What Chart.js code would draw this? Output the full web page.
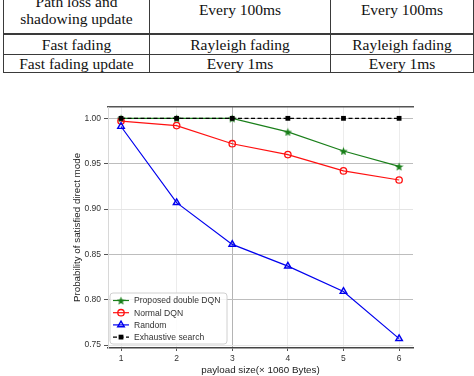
<!DOCTYPE html>
<html>
<head>
<meta charset="utf-8">
<script src="https://cdn.jsdelivr.net/npm/chart.js"></script>
<style>
  html, body { margin: 0; padding: 0; background: #fff; }
  body { width: 474px; height: 376px; overflow: hidden; position: relative; }
  #params {
    position: absolute; left: 3px; top: -15px;
    border-collapse: collapse;
    font-family: "Liberation Serif", serif; font-size: 15.5px; color: #111;
  }
  #params td {
    border: 1px solid #3a3a3a; text-align: center; vertical-align: middle;
    padding: 0; line-height: 17px;
  }
  #params tr.r1 td { height: 47px; border-bottom-width: 2px; }
  #params tr.r2 td { height: 19px; }
  #params tr.r3 td { height: 16px; }
  #wrap { position: absolute; left: 0; top: 95px; width: 474px; height: 281px; }
</style>
</head>
<body>
<table id="params">
  <colgroup><col style="width:146px"><col style="width:181px"><col style="width:143px"></colgroup>
  <tr class="r1"><td>Path loss and<br>shadowing update</td><td>Every 100ms</td><td>Every 100ms</td></tr>
  <tr class="r2"><td>Fast fading</td><td>Rayleigh fading</td><td>Rayleigh fading</td></tr>
  <tr class="r3"><td>Fast fading update</td><td>Every 1ms</td><td>Every 1ms</td></tr>
</table>
<div id="wrap"><canvas id="chart"></canvas></div>
<script>
const payloads = [1, 2, 3, 4, 5, 6];
const doubleDqn = [1.000, 1.000, 1.000, 0.985, 0.964, 0.947];
const normalDqn = [0.997, 0.992, 0.972, 0.960, 0.942, 0.932];
const randomSel = [0.991, 0.907, 0.861, 0.837, 0.809, 0.757];
const exhaustive = [1.000, 1.000, 1.000, 1.000, 1.000, 1.000];
const yTicks = [0.75, 0.80, 0.85, 0.90, 0.95, 1.00];
const seriesNames = ["Proposed double DQN", "Normal DQN", "Random", "Exhaustive search"];

function toPoints(values) {
    return values.map((v, i) => ({ x: payloads[i], y: v }));
}

// filled star marker, Chart.js "star" is only an asterisk
function makeStar(color, size) {
    const c = document.createElement("canvas");
    c.width = size;
    c.height = size;
    const g = c.getContext("2d");
    const r = size / 2, ri = r * 0.42;
    g.beginPath();
    for (let k = 0; k < 10; k++) {
        const rad = k % 2 === 0 ? r : ri;
        const a = -Math.PI / 2 + k * Math.PI / 5;
        const px = r + rad * Math.cos(a), py = r + 0.6 + rad * Math.sin(a);
        if (k === 0) g.moveTo(px, py); else g.lineTo(px, py);
    }
    g.closePath();
    g.fillStyle = color;
    g.fill();
    return c;
}

const starImg = makeStar("#1a7f1a", 9);
const font = "'Liberation Sans', Arial, sans-serif";

const legendBox = {
    id: "legendBox",
    afterDatasetsDraw(chart) {
        const ctx = chart.ctx;
        const area = chart.chartArea;
        const x0 = area.left + 2, w = 117, h = 51;
        const y0 = area.bottom - 4 - h;
        ctx.save();
        ctx.beginPath();
        if (ctx.roundRect) ctx.roundRect(x0, y0, w, h, 3); else ctx.rect(x0, y0, w, h);
        ctx.fillStyle = "rgba(255,255,255,0.85)";
        ctx.fill();
        ctx.strokeStyle = "#d0d0d0";
        ctx.lineWidth = 1;
        ctx.stroke();
        chart.data.datasets.forEach((ds, i) => {
            const cy = y0 + 7.5 + i * 12.2;
            ctx.beginPath();
            ctx.setLineDash(ds.borderDash || []);
            ctx.strokeStyle = ds.borderColor;
            ctx.lineWidth = ds.borderWidth;
            ctx.moveTo(x0 + 3, cy);
            ctx.lineTo(x0 + 19, cy);
            ctx.stroke();
            ctx.setLineDash([]);
            ctx.fillStyle = ds.pointBackgroundColor;
            ctx.strokeStyle = ds.pointBorderColor;
            ctx.lineWidth = ds.pointBorderWidth;
            Chart.helpers.drawPoint(ctx, {
                pointStyle: ds.pointStyle,
                radius: ds.pointRadius,
                borderWidth: ds.pointBorderWidth,
                rotation: 0
            }, x0 + 11, cy);
            ctx.fillStyle = "#333";
            ctx.font = "8.6px " + font;
            ctx.textBaseline = "middle";
            ctx.fillText(ds.label, x0 + 24, cy + 0.5);
        });
        ctx.restore();
    }
};

const gridStrong = [1.00, 0.95, 0.85, 0.80];

new Chart(document.getElementById("chart"), {
    type: "line",
    data: {
        datasets: [
            {
                label: seriesNames[0],
                data: toPoints(doubleDqn),
                borderColor: "#1a7f1a",
                borderWidth: 1.2,
                pointStyle: starImg,
                pointRadius: 4,
                pointBackgroundColor: "#1a7f1a",
                pointBorderColor: "#1a7f1a",
                pointBorderWidth: 0,
                order: 4
            },
            {
                label: seriesNames[1],
                data: toPoints(normalDqn),
                borderColor: "#ff1010",
                borderWidth: 1.2,
                pointStyle: "circle",
                pointRadius: 3.2,
                pointBackgroundColor: "rgba(255,255,255,0)",
                pointBorderColor: "#ff1010",
                pointBorderWidth: 1.3,
                order: 3
            },
            {
                label: seriesNames[2],
                data: toPoints(randomSel),
                borderColor: "#0000ee",
                borderWidth: 1.2,
                pointStyle: "triangle",
                pointRadius: 3.8,
                pointBackgroundColor: "rgba(255,255,255,0)",
                pointBorderColor: "#0000ee",
                pointBorderWidth: 1.4,
                order: 2
            },
            {
                label: seriesNames[3],
                data: toPoints(exhaustive),
                borderColor: "#000",
                borderWidth: 1.4,
                borderDash: [4, 2.5],
                pointStyle: "rect",
                pointRadius: 3.4,
                pointBackgroundColor: "#000",
                pointBorderColor: "#000",
                pointBorderWidth: 0,
                order: 1
            }
        ]
    },
    options: {
        responsive: true,
        maintainAspectRatio: false,
        animation: false,
        layout: { padding: { left: 0, right: 61, top: 12, bottom: 0 } },
        plugins: {
            legend: { display: false },
            tooltip: { enabled: false }
        },
        elements: { line: { tension: 0 } },
        scales: {
            x: {
                type: "linear",
                min: 0.766,
                max: 6.25,
                afterBuildTicks: (s) => { s.ticks = payloads.map(v => ({ value: v })); },
                afterFit: (s) => { s.height = 28; },
                border: { color: "#444", width: 1.6 },
                grid: {
                    color: (c) => (c.tick && c.tick.value === 3 ? "#b4b4b4" : "#ececec"),
                    lineWidth: 1,
                    tickLength: 3,
                    tickColor: "#555"
                },
                ticks: {
                    padding: 3,
                    color: "#333",
                    font: { family: font, size: 8.5 },
                    maxRotation: 0,
                    callback: (v) => String(v)
                },
                title: {
                    display: true,
                    text: "payload size(\u00d7 1060 Bytes)",
                    color: "#222",
                    font: { family: font, size: 9.8 },
                    padding: { top: 0, bottom: 0 }
                }
            },
            top: {
                type: "linear",
                position: "top",
                min: 0.766,
                max: 6.25,
                afterFit: (s) => { s.height = 0; },
                border: { color: "#555", width: 1.4 },
                grid: { display: false, drawTicks: false },
                ticks: { display: false }
            },
            y: {
                min: 0.7467,
                max: 1.0125,
                afterBuildTicks: (s) => { s.ticks = yTicks.map(v => ({ value: v })); },
                afterFit: (s) => { s.width = 108; },
                border: { color: "#d8d8d8", width: 1 },
                grid: {
                    color: (c) => (c.tick && gridStrong.some(v => Math.abs(v - c.tick.value) < 1e-6) ? "#bdbdbd" : "#e4e4e4"),
                    lineWidth: 1,
                    tickLength: 4,
                    tickColor: "#555"
                },
                ticks: {
                    padding: 3,
                    color: "#333",
                    font: { family: font, size: 8.5 },
                    callback: (v) => Number(v).toFixed(2)
                },
                title: {
                    display: true,
                    text: "Probability of satisfied direct mode",
                    color: "#222",
                    font: { family: font, size: 9.8 },
                    padding: { top: 71, bottom: 0 }
                }
            }
        }
    },
    plugins: [legendBox]
});
</script>
</body>
</html>
